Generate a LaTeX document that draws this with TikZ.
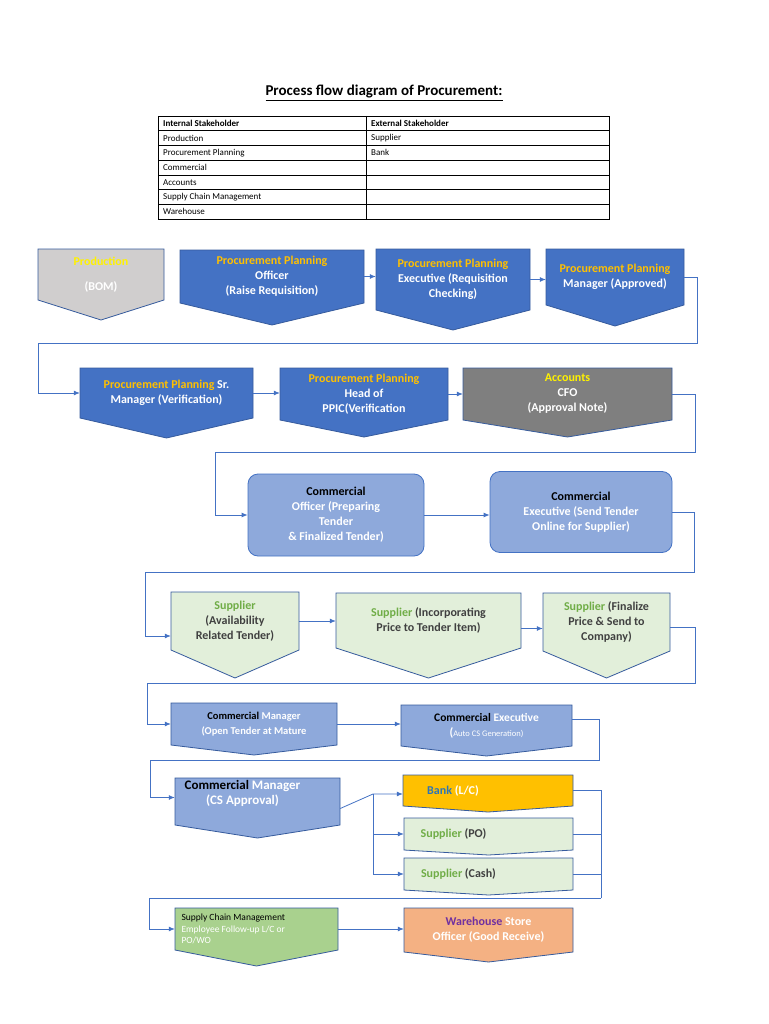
\documentclass[tikz,border=0pt]{standalone}
\usepackage{fontspec}
\setmainfont{Carlito}
\usetikzlibrary{arrows.meta,positioning}
\definecolor{lineblue}{HTML}{4472C4}
\definecolor{ppblue}{HTML}{4472C4}
\definecolor{ppgold}{HTML}{FFC000}
\definecolor{comblue}{HTML}{8EA9DB}
\definecolor{supgreen}{HTML}{E2EFDA}
\definecolor{supword}{HTML}{70AD47}
\definecolor{darktext}{HTML}{404040}
\definecolor{bomgray}{HTML}{D0CECE}
\definecolor{cfogray}{HTML}{7F7F7F}
\definecolor{scmgreen}{HTML}{A9D18E}
\definecolor{storeorange}{HTML}{F4B183}
\definecolor{bankword}{HTML}{2E75B6}
\definecolor{whpurple}{HTML}{7030A0}
\tikzset{
  flow/.style={draw=lineblue,line width=0.8pt,-{Latex[length=6pt,width=5pt]}},
  shapeline/.style={draw=lineblue!80!black,line width=0.8pt},
  boxtext/.style={inner sep=0pt,align=center,font=\bfseries\fontsize{12}{15}\selectfont},
  cell/.style={anchor=west,font=\fontsize{9}{10}\selectfont,inner sep=0pt}
}
% #1 fill, #2 name, #3 x1, #4 x2, #5 top, #6 bottom, #7 tip, #8 text
\newcommand\flowbox[8]{%
  \draw[shapeline,fill=#1] (#3,#5) -- (#4,#5) -- (#4,#6) -- ({(#3+#4)/2},#7) -- (#3,#6) -- cycle;
  \node[boxtext,minimum width={(#4-#3)*1pt},minimum height={(#6-#5)*1pt}] (#2)
    at ({(#3+#4)/2},{(#5+#6)/2}) {#8};}
\newcommand\pp{\textcolor{ppgold}{Procurement Planning}}
\begin{document}
\begin{tikzpicture}[x=1pt,y=-1pt]
\useasboundingbox (0,0) rectangle (768,1024);
\fill[white] (0,0) rectangle (768,1024);

% title and stakeholder table
\node[font=\bfseries\fontsize{15}{18}\selectfont] (title) at (384,93) {\underline{Process flow diagram of Procurement:}};
\draw[line width=0.6pt] (158,116) rectangle (609,219);
\foreach \r in {1,...,6} \draw[line width=0.6pt] (158,{116+\r*103/7}) -- (609,{116+\r*103/7});
\draw[line width=0.6pt] (366,116) -- (366,219);
\foreach \t [count=\i from 0] in {\textbf{Internal Stakeholder},Production,Procurement Planning,Commercial,Accounts,Supply Chain Management,Warehouse}
  \node[cell] at (163,{116+(\i+0.5)*103/7}) {\t};
\foreach \t [count=\i from 0] in {\textbf{External Stakeholder},Supplier,Bank}
  \node[cell] at (371,{116+(\i+0.5)*103/7}) {\t};

% row 1
\flowbox{bomgray}{prod}{38}{164}{249}{300}{320}{\textcolor{yellow}{Production}\\[10pt]\textcolor{white}{(BOM)}}
\flowbox{ppblue}{ppo}{180}{364}{250}{303}{325}{\pp\\\textcolor{white}{Officer}\\\textcolor{white}{(Raise Requisition)}}
\flowbox{ppblue}{ppe}{376}{530}{249}{310}{330}{\pp\\\textcolor{white}{Executive (Requisition}\\\textcolor{white}{Checking)}}
\flowbox{ppblue}{ppm}{546}{684}{249}{305}{326}{\pp\\\textcolor{white}{Manager (Approved)}}
% row 2
\flowbox{ppblue}{pps}{80}{253}{368}{418}{438}{\pp\ \textcolor{white}{Sr.}\\\textcolor{white}{Manager (Verification)}}
\flowbox{ppblue}{pph}{280}{448}{368}{420}{437}{\pp\\\textcolor{white}{Head of}\\\textcolor{white}{PPIC(Verification}}
\flowbox{cfogray}{cfo}{463}{672}{368}{420}{437}{\textcolor{yellow}{Accounts}\\\textcolor{white}{CFO}\\\textcolor{white}{(Approval Note)}}
% row 3
\node[boxtext,draw=lineblue,line width=0.8pt,fill=comblue,rounded corners=10pt,minimum width=176pt,minimum height=82pt] (como) at (336,515)
  {Commercial\\\textcolor{white}{Officer (Preparing}\\\textcolor{white}{Tender}\\\textcolor{white}{\& Finalized Tender)}};
\node[boxtext,draw=lineblue,line width=0.8pt,fill=comblue,rounded corners=10pt,minimum width=182pt,minimum height=81pt] (come) at (581,512)
  {Commercial\\\textcolor{white}{Executive (Send Tender}\\\textcolor{white}{Online for Supplier)}};
% row 4
\flowbox{supgreen}{sa}{171}{299}{592}{650}{678}{\textcolor{supword}{Supplier}\\\textcolor{darktext}{(Availability}\\\textcolor{darktext}{Related Tender)}}
\flowbox{supgreen}{sb}{336}{521}{593}{648}{678}{\textcolor{supword}{Supplier} \textcolor{darktext}{(Incorporating}\\\textcolor{darktext}{Price to Tender Item)}}
\flowbox{supgreen}{sc}{543}{670}{593}{651}{678}{\textcolor{supword}{Supplier} \textcolor{darktext}{(Finalize}\\\textcolor{darktext}{Price \& Send to}\\\textcolor{darktext}{Company)}}
% row 5
\flowbox{comblue}{cmo}{171}{337}{703}{745}{755}{\fontsize{10.5}{13}\selectfont Commercial \textcolor{white}{Manager}\\\fontsize{10.5}{13}\selectfont\textcolor{white}{(Open Tender at Mature}}
\flowbox{comblue}{cea}{401}{572}{705}{746}{756}{\fontsize{11.5}{14}\selectfont Commercial \textcolor{white}{Executive}\\\textcolor{white}{(\mdseries\fontsize{8.5}{10}\selectfont Auto CS Generation)}}
% row 6
\flowbox{comblue}{cma}{175}{340}{778}{825}{838}{\hspace*{-30pt}\fontsize{13}{16}\selectfont Commercial \textcolor{white}{Manager}\\\hspace*{-30pt}\fontsize{13}{16}\selectfont\textcolor{white}{(CS Approval)}\\[4pt]}
\flowbox{ppgold}{bank}{403}{573}{775}{806}{812}{\hspace*{-70pt}\textcolor{bankword}{Bank} \textcolor{white}{(L/C)}}
\flowbox{supgreen}{spo}{404}{573}{818}{850}{855}{\hspace*{-70pt}\textcolor{supword}{Supplier} \textcolor{darktext}{(PO)}}
\flowbox{supgreen}{scash}{404}{573}{858}{890}{895}{\hspace*{-60pt}\textcolor{supword}{Supplier} \textcolor{darktext}{(Cash)}}
% row 7
\flowbox{scmgreen}{scm}{175}{338}{908}{950}{966}{\parbox{150pt}{\mdseries\fontsize{9.5}{11.5}\selectfont Supply Chain Management\\\textcolor{white}{Employee Follow-up L/C or}\\\textcolor{white}{PO/WO}}}
\flowbox{storeorange}{store}{404}{573}{908}{952}{962}{\textcolor{whpurple}{Warehouse} \textcolor{white}{Store}\\\textcolor{white}{Officer (Good Receive)}}

% turning points
\coordinate (t1) at (697,343);  \coordinate (t1b) at (38,343);
\coordinate (t2) at (695,452);  \coordinate (t2b) at (215,452);
\coordinate (t3) at (694,572);  \coordinate (t3b) at (145,572);
\coordinate (t4) at (695,683);  \coordinate (t4b) at (147,683);
\coordinate (t5) at (599,760);  \coordinate (t5b) at (150,760);
\coordinate (t6) at (601,898);  \coordinate (t6b) at (149,898);
\coordinate (fork) at (373,794);
\coordinate (sbout) at ([yshift=-8pt]sb.east);

% connectors
\draw[flow] (ppo.east) -- (ppe.west |- ppo.east);
\draw[flow] (ppe.east) -- (ppm.west |- ppe.east);
\draw[flow] (ppm.east) -| (t1) -- (t1b) |- (pps.west);
\draw[flow] (pps.east) -- (pph.west |- pps.east);
\draw[flow] (pph.east) -- (cfo.west |- pph.east);
\draw[flow] (cfo.east) -| (t2) -- (t2b) |- (como.west);
\draw[flow] (como.east) -- (come.west |- como.east);
\draw[flow] (come.east) -| (t3) -- (t3b) |- ([yshift=-15pt]sa.west);
\draw[flow] (sa.east) -- (sb.west |- sa.east);
\draw[flow] (sbout) -- (sc.west |- sbout);
\draw[flow] ([yshift=-5pt]sc.east) -| (t4) -- (t4b) |- (cmo.west);
\draw[flow] (cmo.east) -- (cea.west |- cmo.east);
\draw[flow] ([yshift=6pt]cea.east) -| (t5) -- (t5b) |- ([yshift=4pt]cma.west);
\draw[flow] ([yshift=-7pt]cma.east) -- (fork) -- (bank.west |- fork);
\draw[flow] (fork) |- (spo.west);
\draw[flow] (fork) |- (scash.west);
\draw[lineblue,line width=0.8pt] (bank.east) -| (t6);
\draw[lineblue,line width=0.8pt] (spo.east) -- (spo.east -| t6);
\draw[lineblue,line width=0.8pt] (scash.east) -- (scash.east -| t6);
\draw[flow] (t6) -- (t6b) |- (scm.west);
\draw[flow] (scm.east) -- (store.west |- scm.east);
\end{tikzpicture}
\end{document}
